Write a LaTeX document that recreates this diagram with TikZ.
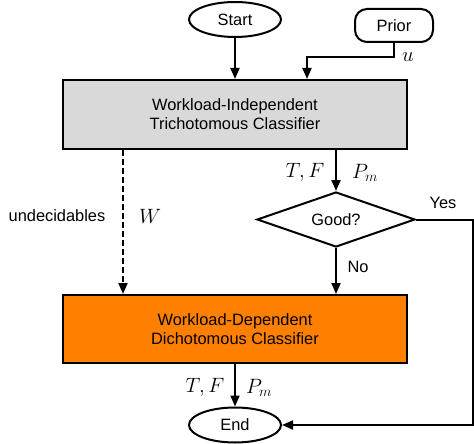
\documentclass[tikz,border=0pt]{standalone}
\usepackage{fontspec}
\setmainfont{Liberation Sans}
\usetikzlibrary{shapes.geometric,arrows.meta}
\definecolor{boxgray}{RGB}{217,217,217}
\definecolor{boxorange}{RGB}{255,128,0}
\begin{document}
\begin{tikzpicture}[x=1pt,y=-1pt,
  font=\fontsize{16.4}{19}\selectfont,
  line width=2pt,
  arr/.style={-{Triangle[length=11pt,width=9pt]}},
  box/.style={draw, rectangle, minimum width=344pt, minimum height=69pt, align=center, inner sep=0pt},
  term/.style={draw, ellipse, minimum width=92pt, minimum height=35pt, inner sep=0pt},
  lab/.style={font=\fontsize{21}{24}\selectfont, inner sep=0pt}]
\useasboundingbox (0,0) rectangle (474,444);
\node[term] (start) at (235,19.5) {Start};
\node[draw, rounded corners=12pt, minimum width=78pt, minimum height=33pt, inner sep=0pt] (prior) at (394,25.5) {Prior};
\node[box, fill=boxgray] (wit) at (235,114.5) {Workload-Independent\\Trichotomous Classifier};
\node[draw, diamond, aspect=2.87, minimum width=158pt, minimum height=55pt, inner sep=0pt] (good) at (336,219.5) {Good?};
\node[box, fill=boxorange, minimum height=68pt] (wdd) at (235,329) {Workload-Dependent\\Dichotomous Classifier};
\node[term] (end) at (235,425) {End};
% connectors
\draw[arr] (start.south) -- (start |- wit.north);
\coordinate (pj) at (307,57);
\draw[arr] (prior.south) |- (pj) -- (pj |- wit.north);
\node[lab] (u) at (408,57) {$u$};
\coordinate (dl) at (123,0);
\draw[arr, dash pattern=on 6pt off 3pt] (dl |- wit.south) -- (dl |- wdd.north);
\node (undec) at (57,216) {undecidables};
\node[lab] (w) at (150,216) {$W$};
\draw[arr] (wit.south -| good) -- (good.north);
\node[lab] (tf1) at (305,172) {$T,F$};
\node[lab] (pm1) at (365,173) {$P_m$};
\draw[arr] (good.south) -- (good |- wdd.north);
\node (no) at (358,267) {No};
\coordinate (yc) at (472.5,0);
\draw[arr] (good.east) -- (good.east -| yc) |- (end.east);
\node (yes) at (443,203) {Yes};
\draw[arr] (wdd.south) -- (end.north);
\node[lab] (tf2) at (205,387) {$T,F$};
\node[lab] (pm2) at (259,388) {$P_m$};
\end{tikzpicture}
\end{document}
